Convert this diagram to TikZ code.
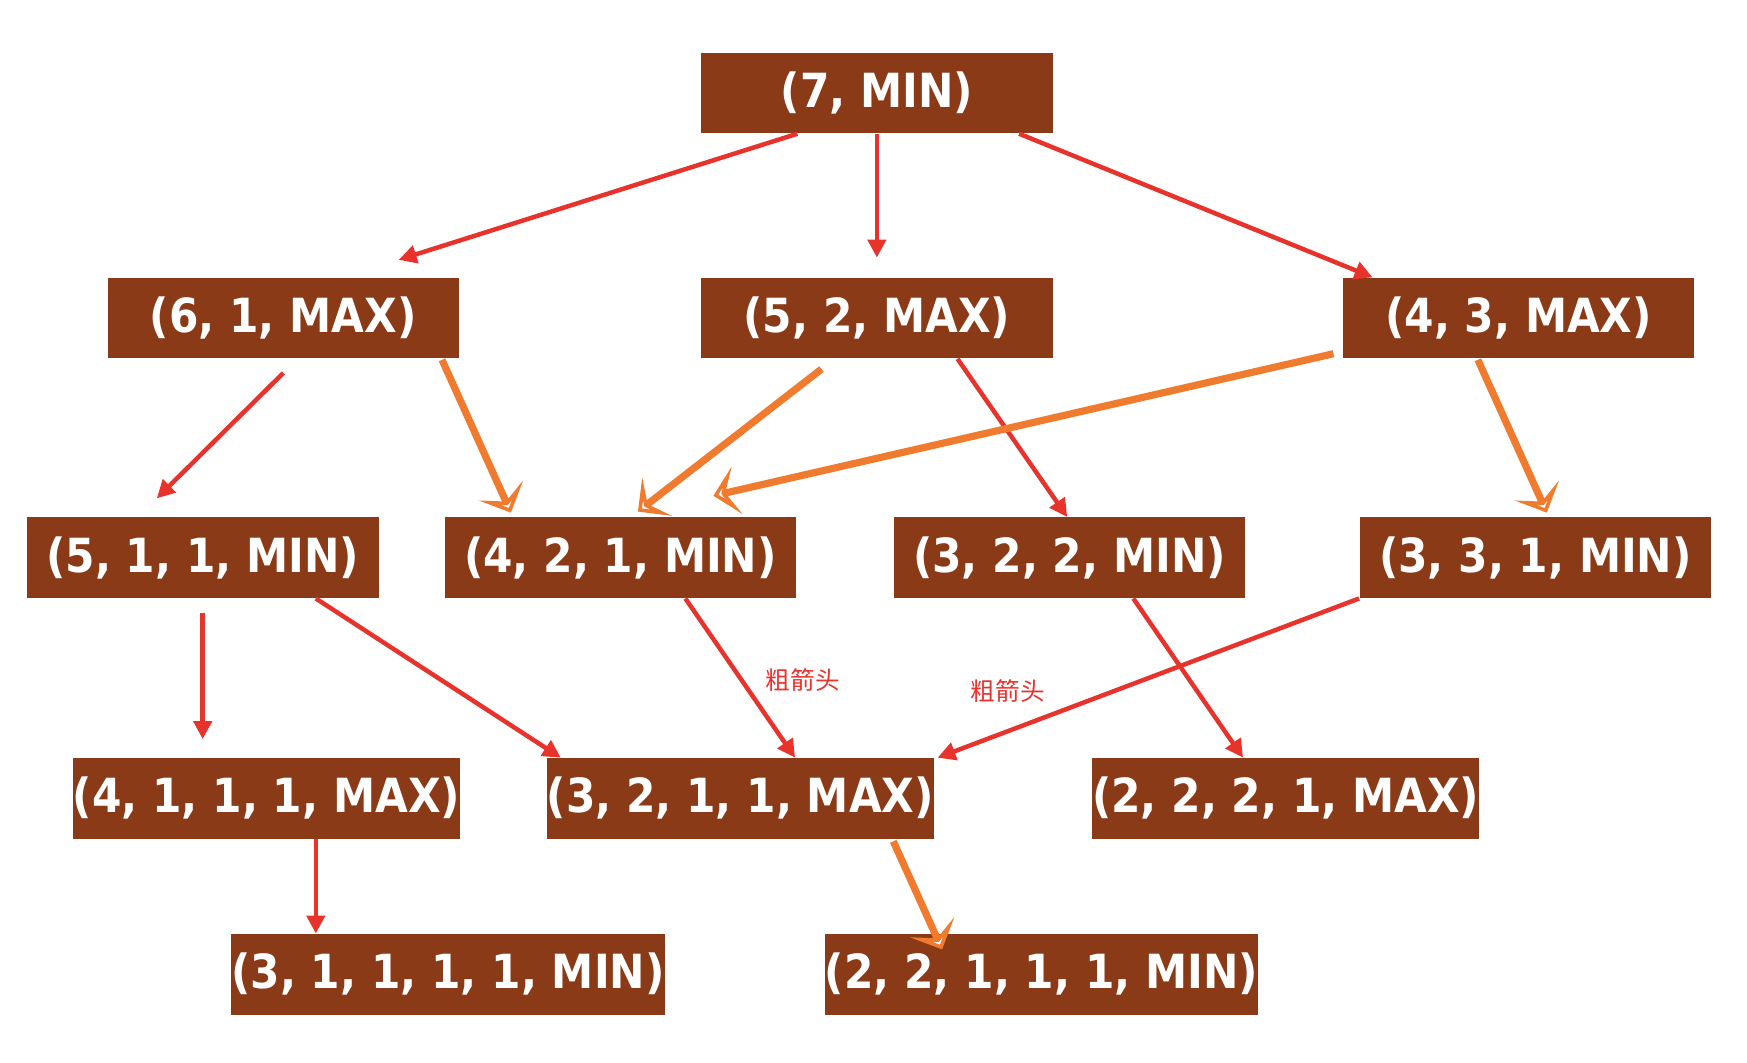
\documentclass[tikz,border=0pt]{standalone}
\usepackage{fontspec}
\setmainfont{DejaVu Sans Condensed}
\newfontfamily\cjk{Noto Sans CJK SC}
\usetikzlibrary{arrows.meta,shapes.arrows,calc}
\definecolor{boxc}{HTML}{8B3A17}
\definecolor{redc}{HTML}{E8322C}
\definecolor{orc}{HTML}{F07B2E}
\begin{document}
\begin{tikzpicture}[x=0.5pt,y=-0.5pt,
  box/.style={fill=boxc,text=white,font=\fontsize{21}{24}\selectfont\bfseries,minimum height=36pt,inner sep=0pt},
  ra/.style={draw=redc,line width=2pt,-{Triangle[length=8pt,width=8pt]}},
  lbl/.style={text=redc,font=\cjk\fontsize{11}{13}\selectfont}]
\useasboundingbox (0,0) rectangle (1560,949);
\node[box,minimum width=157pt] (A) at (783,83) {(7, MIN)};
\node[box,minimum width=157pt] (B) at (253,284) {(6, 1, MAX)};
\node[box,minimum width=157pt] (C) at (783,284) {(5, 2, MAX)};
\node[box,minimum width=157pt] (D) at (1356,284) {(4, 3, MAX)};
\node[box,minimum width=157pt] (E) at (181,498) {(5, 1, 1, MIN)};
\node[box,minimum width=157pt] (F) at (554,498) {(4, 2, 1, MIN)};
\node[box,minimum width=157pt] (G) at (955,498) {(3, 2, 2, MIN)};
\node[box,minimum width=157pt] (H) at (1371,498) {(3, 3, 1, MIN)};
\node[box,minimum width=171.5pt] (I) at (238,713) {(4, 1, 1, 1, MAX)};
\node[box,minimum width=164.5pt] (J) at (661,713) {(3, 2, 1, 1, MAX)};
\node[box,minimum width=164.5pt] (K) at (1148,713) {(2, 2, 2, 1, MAX)};
\node[box,minimum width=190pt] (L) at (400,870) {(3, 1, 1, 1, 1, MIN)};
\node[box,minimum width=190pt] (M) at (930,870) {(2, 2, 1, 1, 1, MIN)};
% red arrows
\draw[ra] ($(A.south)+(-71,0)$) -- (356,232);
\draw[ra] (A.south) -- (783,230);
\draw[ra] ($(A.south)+(127,0)$) -- ($(D.north west)+(27,0)$);
\draw[ra] (253,333) -- (140,445);
\draw[ra] ($(C.south)+(72,0)$) -- ($(G.north)+(-2,0)$);
\draw[ra] (181,547) -- (181,660);
\draw[ra] ($(E.south)+(101,0)$) -- ($(J.north west)+(13,0)$);
\draw[ra] ($(F.south)+(58,0)$) -- ($(J.north)+(49,0)$);
\draw[ra] ($(G.south)+(57,0)$) -- ($(K.north)+(-38,0)$);
\draw[ra] (H.south west) -- ($(J.north east)+(3,0)$);
\draw[ra] ($(I.south)+(44,0)$) -- ($(L.north)+(-118,0)$);
% hollow arrows
\newcommand{\harrow}[2]{%
 \path let \p1=($(#2)-(#1)$), \n1={veclen(\x1,\y1)}, \n2={atan2(\y1,\x1)} in
  node[single arrow,draw=orc,line width=1.6pt,fill=white,inner sep=0pt,minimum width=7pt,
   single arrow head extend=6pt,single arrow head indent=3pt,minimum height=\n1,rotate=\n2] at ($(#1)!0.5!(#2)$) {};}
\coordinate (h1a) at (395,322); \coordinate (h1b) at (455,455);
\coordinate (h2a) at (733,330); \coordinate (h2b) at (572,455);
\coordinate (h3a) at (1190,316); \coordinate (h3b) at (640,442);
\coordinate (h4a) at (1320,322); \coordinate (h4b) at (1380,455);
\coordinate (h5a) at (798,752); \coordinate (h5b) at (840,845);
\harrow{h1a}{h1b}\harrow{h2a}{h2b}\harrow{h3a}{h3b}\harrow{h4a}{h4b}\harrow{h5a}{h5b}
\node[lbl] (t1) at (717,607) {粗箭头};
\node[lbl] (t2) at (900,617) {粗箭头};
\end{tikzpicture}
\end{document}
